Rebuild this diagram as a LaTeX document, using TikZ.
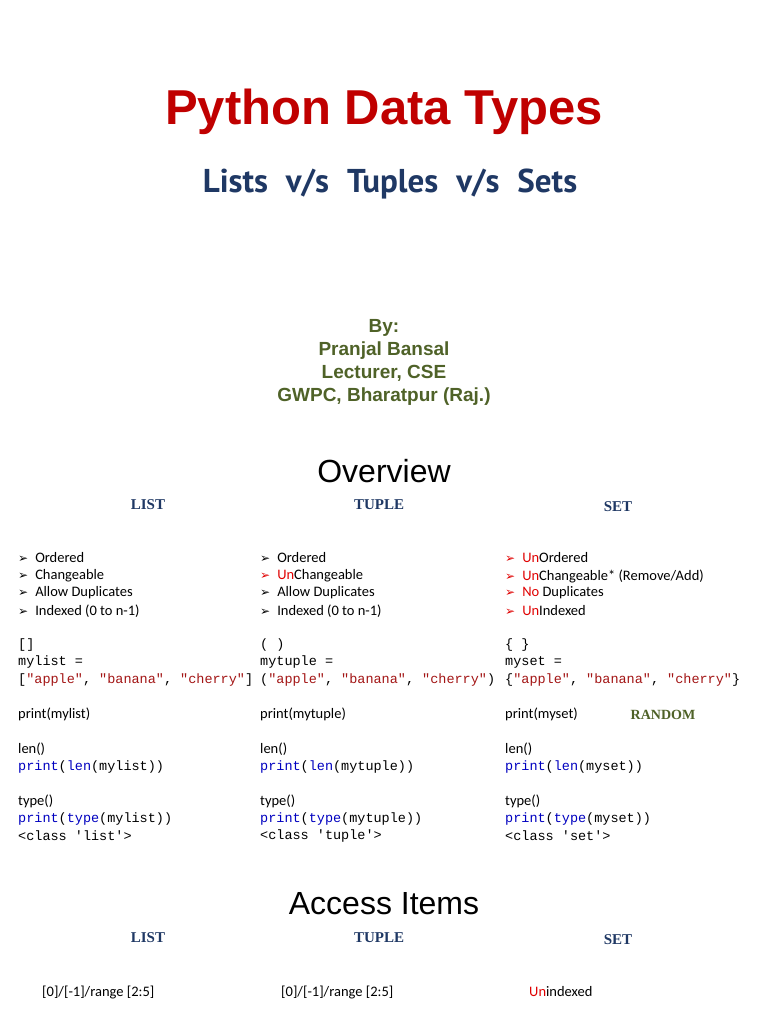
\documentclass[tikz,border=0pt]{standalone}
\usepackage{fontspec}
\setmainfont{Carlito}
\newfontfamily\lsf{Liberation Sans}
\newfontfamily\ptsf{PT Sans}
\newfontfamily\djvf{DejaVu Sans}
\newfontfamily\monof{Liberation Mono}
\newfontfamily\hdf{Liberation Serif}
\definecolor{tred}{HTML}{C00000}
\definecolor{navy}{HTML}{1F3864}
\definecolor{grn}{HTML}{4F6228}
\definecolor{sred}{HTML}{A31515}
\definecolor{kblue}{HTML}{0000C0}
\definecolor{ured}{HTML}{E00000}
\newcommand{\bul}{{\djvf\fontsize{12}{12}\selectfont ➢}\hspace{7pt}}
\newcommand{\rbul}{{\color{ured}\djvf\fontsize{12}{12}\selectfont ➢}\hspace{7pt}}
\newcommand{\un}[1]{{\color{ured}#1}}
\newcommand{\st}[1]{{\color{sred}#1}}
\newcommand{\kw}[1]{{\color{kblue}#1}}
\begin{document}
\begin{tikzpicture}[x=1pt,y=-1pt,
 txt/.style={anchor=west,inner sep=0,font=\fontsize{14.5}{14.5}\selectfont},
 code/.style={anchor=west,inner sep=0,font=\monof\fontsize{13.5}{14}\selectfont},
 colhd/.style={inner sep=0,text=navy,font=\hdf\bfseries\fontsize{15}{15}\selectfont},
 big/.style={inner sep=0,font=\lsf\fontsize{32}{32}\selectfont}]
\useasboundingbox[fill=white] (0,0) rectangle (768,1024);
\node[inner sep=0,text=tred,font=\lsf\bfseries\fontsize{49}{49}\selectfont] (title) at (384,112) {Python Data Types};
\node[inner sep=0,text=navy,font=\ptsf\bfseries\fontsize{33}{33}\selectfont] (sub) at (390,184) {Lists\hspace{18pt}v/s\hspace{18pt}Tuples\hspace{18pt}v/s\hspace{18pt}Sets};
\node[inner sep=0,text=grn,align=center,font=\lsf\bfseries\fontsize{19}{23}\selectfont] (by) at (384,362) {By:\\Pranjal Bansal\\Lecturer, CSE\\GWPC, Bharatpur (Raj.)};
\node[big] (ov) at (384,471) {Overview};
\node[colhd] (h1) at (148,505) {LIST};
\node[colhd] (h2) at (379,505) {TUPLE};
\node[colhd] (h3) at (618,507) {SET};
% list column
\node[txt] (a1) at (18,558) {\bul Ordered};
\node[txt] (a2) at (18,576) {\bul Changeable};
\node[txt] (a3) at (18,593) {\bul Allow Duplicates};
\node[txt] (a4) at (18,611) {\bul Indexed (0 to n-1)};
\node[code] (a5) at (18,645) {[]};
\node[code] (a6) at (18,662) {mylist =};
\node[code] (a7) at (18,680) {[\st{"apple"}, \st{"banana"}, \st{"cherry"}]};
\node[txt] (a8) at (18,714) {print(mylist)};
\node[txt] (a9) at (18,749) {len()};
\node[code] (a10) at (18,767) {\kw{print}(\kw{len}(mylist))};
\node[txt] (a11) at (18,801) {type()};
\node[code] (a12) at (18,819) {\kw{print}(\kw{type}(mylist))};
\node[code] (a13) at (18,836) {<class 'list'>};
% tuple column
\node[txt] (b1) at (260,558) {\bul Ordered};
\node[txt] (b2) at (260,576) {\rbul\un{Un}Changeable};
\node[txt] (b3) at (260,593) {\bul Allow Duplicates};
\node[txt] (b4) at (260,611) {\bul Indexed (0 to n-1)};
\node[code] (b5) at (260,645) {( )};
\node[code] (b6) at (260,662) {mytuple =};
\node[code] (b7) at (260,680) {(\st{"apple"}, \st{"banana"}, \st{"cherry"})};
\node[txt] (b8) at (260,714) {print(mytuple)};
\node[txt] (b9) at (260,749) {len()};
\node[code] (b10) at (260,767) {\kw{print}(\kw{len}(mytuple))};
\node[txt] (b11) at (260,801) {type()};
\node[code] (b12) at (260,819) {\kw{print}(\kw{type}(mytuple))};
\node[code] (b13) at (260,836) {<class 'tuple'>};
% set column
\node[txt] (c1) at (505,558) {\rbul\un{Un}Ordered};
\node[txt] (c2) at (505,576) {\rbul\un{Un}Changeable* (Remove/Add)};
\node[txt] (c3) at (505,593) {\rbul\un{No} Duplicates};
\node[txt] (c4) at (505,611) {\rbul\un{Un}Indexed};
\node[code] (c5) at (505,645) {\{ \}};
\node[code] (c6) at (505,662) {myset =};
\node[code] (c7) at (505,680) {\{\st{"apple"}, \st{"banana"}, \st{"cherry"}\}};
\node[txt] (c8) at (505,714) {print(myset)};
\node[inner sep=0,text=grn,font=\hdf\bfseries\fontsize{14}{14}\selectfont] (rnd) at (663,715) {RANDOM};
\node[txt] (c9) at (505,749) {len()};
\node[code] (c10) at (505,767) {\kw{print}(\kw{len}(myset))};
\node[txt] (c11) at (505,801) {type()};
\node[code] (c12) at (505,819) {\kw{print}(\kw{type}(myset))};
\node[code] (c13) at (505,836) {<class 'set'>};
% access items
\node[big] (acc) at (384,904) {Access Items};
\node[colhd] (g1) at (148,938) {LIST};
\node[colhd] (g2) at (379,938) {TUPLE};
\node[colhd] (g3) at (618,940) {SET};
\node[txt] (d1) at (42,992) {[0]/[-1]/range [2:5]};
\node[txt] (d2) at (281,992) {[0]/[-1]/range [2:5]};
\node[txt] (d3) at (529,992) {\un{Un}indexed};
\end{tikzpicture}
\end{document}
